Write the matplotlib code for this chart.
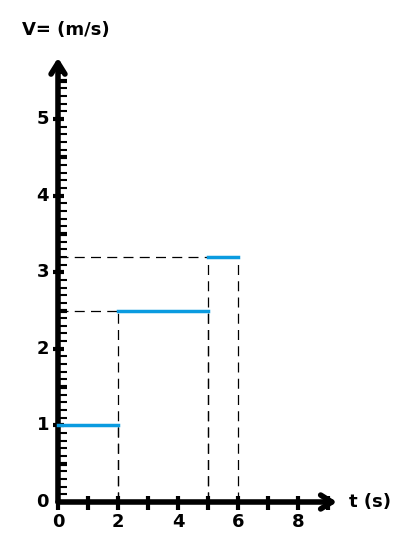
import matplotlib
matplotlib.use("Agg")
import matplotlib.pyplot as plt
import numpy as np

t_starts = [0, 2, 5]
t_ends = [2, 5, 6]
velocities = [1.0, 2.5, 3.2]
x_ticks = [0, 2, 4, 6, 8]
y_ticks = [0, 1, 2, 3, 4, 5]

fig = plt.figure(figsize=(4.02, 5.58), dpi=100)
ax = fig.add_axes([0, 0, 1, 1])
ax.set_xlim(-58/30, 344/30)
ax.set_ylim(-56/76.6, 502/76.6)
ax.axis('off')

# axes with arrows
ax.annotate('', xy=(9.3, 0), xytext=(0, 0),
            arrowprops=dict(arrowstyle='->,head_length=0.8,head_width=0.5', lw=4, color='black', shrinkA=0, shrinkB=0))
ax.annotate('', xy=(0, 5.8), xytext=(0, 0),
            arrowprops=dict(arrowstyle='->,head_length=0.8,head_width=0.5', lw=4, color='black', shrinkA=0, shrinkB=0))

# y ticks
for v in np.arange(0.1, 5.61, 0.1):
    v = round(v, 1)
    if abs(v - round(v)) < 1e-6:
        ax.plot([-0.15, 0.2], [v, v], color='black', lw=3, solid_capstyle='butt')
    elif abs(v*2 - round(v*2)) < 1e-6:
        ax.plot([0, 0.3], [v, v], color='black', lw=3, solid_capstyle='butt')
    else:
        ax.plot([0, 0.3], [v, v], color='black', lw=1.5, solid_capstyle='butt')
# x ticks
for v in range(1, 10):
    ax.plot([v, v], [-0.1, 0.08], color='black', lw=3, solid_capstyle='butt')
ax.plot([0, 0], [-0.1, 0], color='black', lw=3, solid_capstyle='butt')

for v in x_ticks:
    ax.text(v, -0.15, str(v), ha='center', va='top', fontsize=13, fontweight='bold')
for v in y_ticks:
    ax.text(-0.3, v, str(v), ha='right', va='center', fontsize=13, fontweight='bold')

ax.text(-1.2, 6.1, 'V= (m/s)', ha='left', va='baseline', fontsize=13, fontweight='bold')
ax.text(9.7, 0, 't (s)', ha='left', va='center', fontsize=13, fontweight='bold')

dash = dict(color='black', lw=0.9, dashes=(8, 5))
for s, e, v in zip(t_starts, t_ends, velocities):
    ax.plot([s, e], [v, v], color='#0a9be0', lw=2.5, zorder=3)
    ax.plot([e, e], [0, v], **dash)
for s, v in zip(t_starts[1:], velocities[1:]):
    ax.plot([0, s], [v, v], **dash)
    ax.plot([s, s], [0, v], **dash)

fig.savefig('out.png', dpi=100)
